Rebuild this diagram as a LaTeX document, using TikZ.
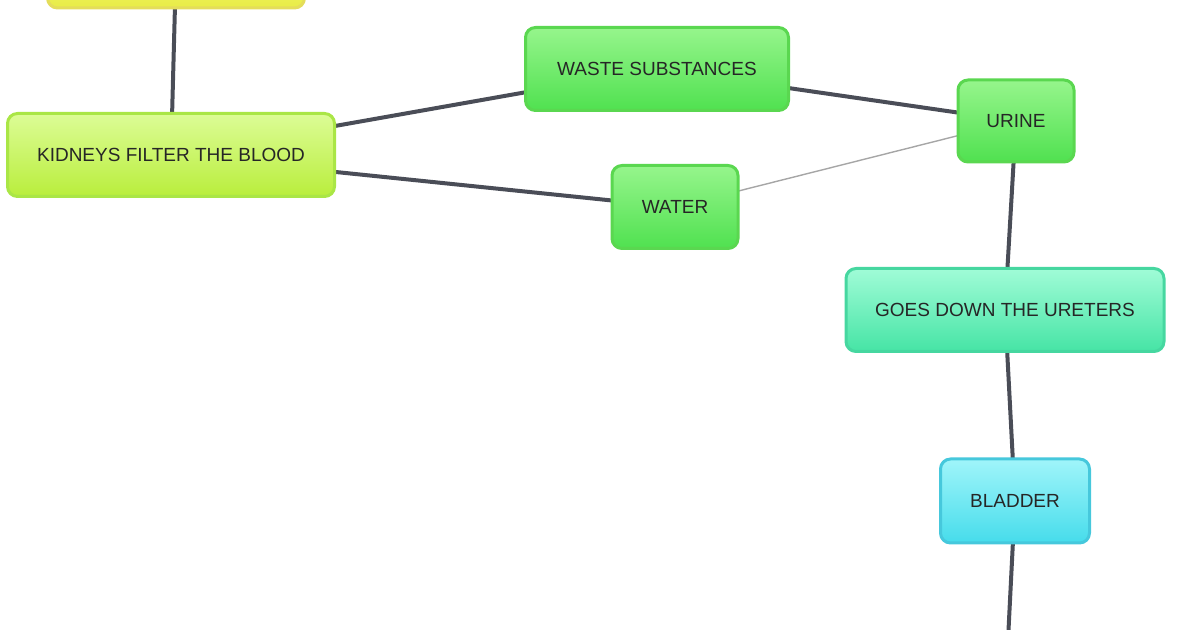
\documentclass[tikz,border=0pt]{standalone}
\usepackage{fontspec}
\setmainfont{Liberation Sans}
\usetikzlibrary{backgrounds}
\definecolor{edge}{HTML}{4A4D57}
\tikzset{
 box/.style={draw, line width=1.5pt, rounded corners=5pt, inner sep=0pt, font=\fontsize{9.5}{11}\selectfont, text=black!85},
 yel/.style={box, draw=yellow!60!olive!60, top color=yellow!40!white, bottom color={rgb,255:red,232;green,236;blue,70}},
 lime/.style={box, draw={rgb,255:red,170;green,230;blue,70}, top color={rgb,255:red,220;green,252;blue,150}, bottom color={rgb,255:red,185;green,238;blue,60}},
 grn/.style={box, draw={rgb,255:red,90;green,215;blue,80}, top color={rgb,255:red,150;green,245;blue,140}, bottom color={rgb,255:red,80;green,225;blue,80}},
 teal/.style={box, draw={rgb,255:red,70;green,215;blue,160}, top color={rgb,255:red,160;green,252;blue,215}, bottom color={rgb,255:red,70;green,228;blue,165}},
 cyan/.style={box, draw={rgb,255:red,70;green,200;blue,220}, top color={rgb,255:red,160;green,245;blue,250}, bottom color={rgb,255:red,70;green,220;blue,235}},
 con/.style={draw=edge, line width=2pt},
 thin/.style={draw=gray!70, line width=0.7pt}
}
\begin{document}
\begin{tikzpicture}[x=0.5pt,y=-0.5pt]
\useasboundingbox (0,0) rectangle (1200,630);
\begin{scope}
\clip (0,0) rectangle (1200,630);
\node[yel, minimum width=128.5pt, minimum height=40pt] (top) at (176,-32) {};
\node[lime, minimum width=163.5pt, minimum height=41.5pt] (kid) at (171,155) {KIDNEYS FILTER THE BLOOD};
\node[grn, minimum width=131.5pt, minimum height=41.5pt] (waste) at (657,69) {WASTE SUBSTANCES};
\node[grn, minimum width=63pt, minimum height=41.5pt] (water) at (675,207) {WATER};
\node[grn, minimum width=58pt, minimum height=41pt] (urine) at (1016,121) {URINE};
\node[teal, minimum width=159pt, minimum height=41.5pt] (down) at (1005,310) {GOES DOWN THE URETERS};
\node[cyan, minimum width=74.5pt, minimum height=42pt] (blad) at (1015,501) {BLADDER};
\coordinate (end) at (1008,640);
\begin{pgfonlayer}{background}
\draw[con] (top.center) -- (kid.center);
\draw[con] (kid.center) -- (waste.center);
\draw[con] (kid.center) -- (water.center);
\draw[con] (waste.center) -- (urine.center);
\draw[thin] (water.center) -- (urine.center);
\draw[con] (urine.center) -- (down.center);
\draw[con] (down.center) -- (blad.center);
\draw[con] (blad.center) -- (end);
\end{pgfonlayer}
\end{scope}
\end{tikzpicture}
\end{document}
